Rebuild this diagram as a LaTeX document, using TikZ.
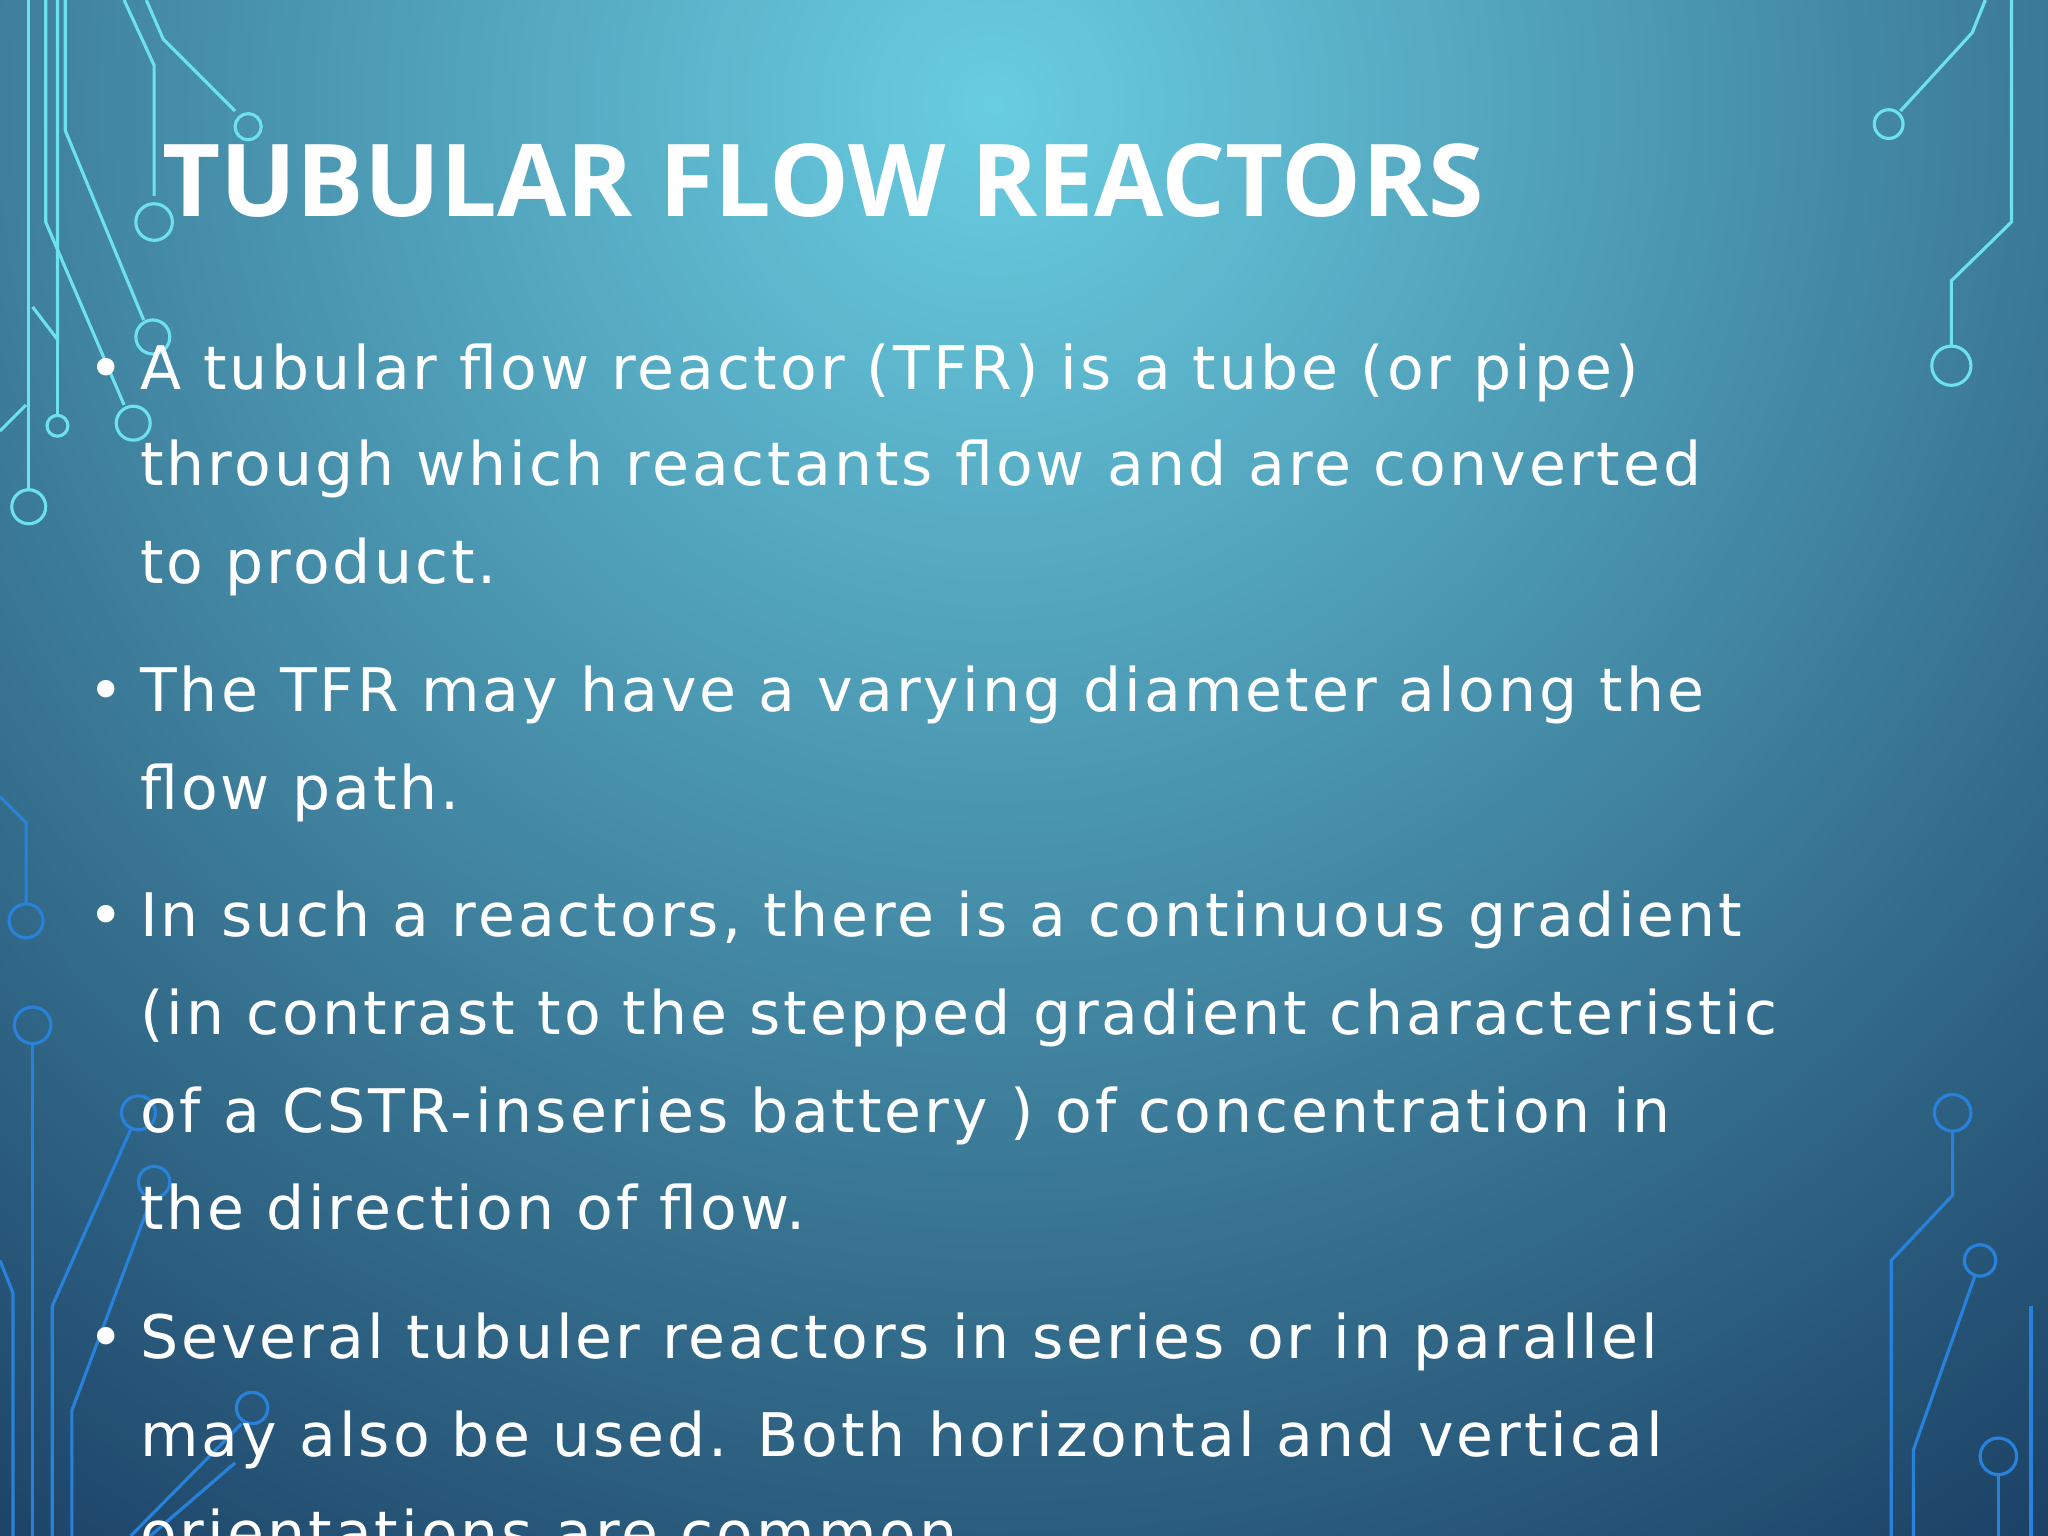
\documentclass[tikz,border=0pt]{standalone}
\usepackage{fontspec}
\setmainfont{DejaVu Sans}[LetterSpace=5]
\newfontfamily\titlefont{Open Sans}
\definecolor{navy}{RGB}{8,30,70}
\definecolor{lightc}{RGB}{105,205,225}
\definecolor{cktl}{RGB}{110,225,240}
\definecolor{cktd}{RGB}{40,130,220}
\begin{document}
\begin{tikzpicture}[x=0.5pt,y=-0.5pt,
  ln/.style={anchor=base west,text=white,inner sep=0,font=\fontsize{23}{30}\selectfont},
  bul/.style={anchor=base west,text=white,inner sep=0,font=\fontsize{23}{30}\selectfont},
  ckt/.style={draw=cktl,line width=1.2pt},
  ckd/.style={draw=cktd,line width=1.2pt}]
\useasboundingbox (0,0) rectangle (1568,1176);
\fill[navy] (0,0) rectangle (1568,1176);
\begin{scope}
\clip (0,0) rectangle (1568,1176);
\shade[inner color=lightc,outer color=navy] (760,80) circle (1700);
\end{scope}
% circuit lines left top
\draw[ckt] (95,0) -- (118,50) -- (118,150);
\draw[ckt] (112,0) -- (125,30) -- (180,85); \draw[ckt] (190,97) circle (10);
\draw[ckt] (118,150) ++(0,20) circle (14);
\draw[ckt] (50,0) -- (50,100) -- (110,245); \draw[ckt] (117,258) circle (13);
\draw[ckt] (35,0) -- (35,170) -- (95,310); \draw[ckt] (102,324) circle (13);
\draw[ckt] (22,0) -- (22,375); \draw[ckt] (22,388) circle (13);
\draw[ckt] (44,0) -- (44,260) -- (25,235); \draw[ckt] (44,260) -- (44,318); \draw[ckt] (44,326) circle (8);
\draw[ckt] (0,330) -- (20,310);
% left middle
\draw[ckd] (0,610) -- (20,630) -- (20,692); \draw[ckd] (20,705) circle (13);
\draw[ckd] (25,800) -- (25,1176); \draw[ckd] (25,785) circle (14);
\draw[ckd] (0,965) -- (10,990) -- (10,1176);
\draw[ckd] (40,1176) -- (40,1000) -- (100,865); \draw[ckd] (106,852) circle (13);
\draw[ckd] (55,1176) -- (55,1080) -- (115,920); \draw[ckd] (118,905) circle (12);
\draw[ckd] (100,1176) -- (185,1090); \draw[ckd] (193,1078) circle (12);
\draw[ckd] (115,1176) -- (180,1120);
% right top
\draw[ckt] (1520,0) -- (1510,25) -- (1455,85); \draw[ckt] (1446,95) circle (11);
\draw[ckt] (1540,0) -- (1540,170) -- (1494,215) -- (1494,265); \draw[ckt] (1494,280) circle (15);
% right bottom
\draw[ckd] (1495,852) circle (14); \draw[ckd] (1495,866) -- (1495,915) -- (1448,965) -- (1448,1176);
\draw[ckd] (1516,965) circle (12); \draw[ckd] (1512,977) -- (1465,1110) -- (1465,1176);
\draw[ckd] (1530,1115) circle (14); \draw[ckd] (1530,1129) -- (1530,1176);
\draw[ckd] (1555,1176) -- (1555,1000);
% text
\node[anchor=base west,text=white,inner sep=0,font=\titlefont\bfseries\fontsize{38.5}{50}\selectfont] (title) at (124,166) {TUBULAR FLOW REACTORS};
\foreach \y in {298,545,717,1040} \node[bul] at (67,\y) {•};
\node[ln] (l1) at (107,298) {A tubular flow reactor (TFR) is a tube (or pipe)};
\node[ln] (l2) at (107,372) {through which reactants flow and are converted};
\node[ln] (l3) at (107,447) {to product.};
\node[ln] (l4) at (107,545) {The TFR may have a varying diameter along the};
\node[ln] (l5) at (107,620) {flow path.};
\node[ln] (l6) at (107,717) {In such a reactors, there is a continuous gradient};
\node[ln] (l7) at (107,792) {(in contrast to the stepped gradient characteristic};
\node[ln] (l8) at (107,867) {of a CSTR-inseries battery ) of concentration in};
\node[ln] (l9) at (107,941) {the direction of flow.};
\node[ln] (l10) at (107,1040) {Several tubuler reactors in series or in parallel};
\node[ln] (l11) at (107,1115) {may also be used. Both horizontal and vertical};
\node[ln] (l12) at (107,1190) {orientations are common.};
\end{tikzpicture}
\end{document}
